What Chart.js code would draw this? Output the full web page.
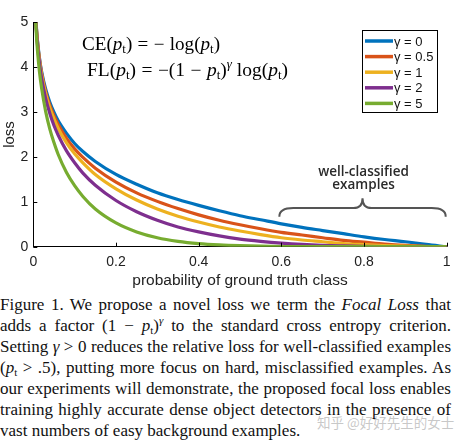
<!DOCTYPE html>
<html>
<head>
<meta charset="utf-8">
<script src="https://cdn.jsdelivr.net/npm/chart.js@4.4.1/dist/chart.umd.min.js"></script>
<style>
  html, body { margin: 0; padding: 0; background: #fff; }
  body { width: 464px; height: 441px; position: relative; overflow: hidden; }
  #wrap { position: absolute; left: 0; top: 0; width: 464px; height: 290px; }
  .formula { position: absolute; font-family: "Liberation Serif", serif; font-size: 18px; line-height: 18px; white-space: nowrap; color: #000; transform-origin: 0 50%; }
  .formula sub { font-size: 12px; vertical-align: -3px; line-height: 0; }
  .formula sup { font-size: 12px; vertical-align: 8px; line-height: 0; }
  .formula .op { margin: 0 5px; }
  #caption { position: absolute; left: 0; top: 293.5px; width: 451px; font-family: "Liberation Serif", serif; font-size: 17px; line-height: 21.1px; color: #111; }
  #caption .ln { white-space: nowrap; height: 21.1px; }
  #caption .ln span { display: inline-block; white-space: nowrap; }
  #caption sub { font-size: 11px; vertical-align: -3px; line-height: 0; }
  #caption sup { font-size: 11px; vertical-align: 7px; line-height: 0; }
  #mark { position: absolute; left: 317px; top: 412px; font-family: "Noto Sans CJK SC", sans-serif; font-size: 13.5px; color: rgba(175, 175, 175, 0.7); white-space: nowrap; }
</style>
</head>
<body>
<div id="wrap"><canvas id="focal-chart"></canvas></div>
<div class="formula" id="ce" data-w="138" style="left:82px; top:35px;">CE(<i>p</i><sub>t</sub>)<span class="op">=</span>−<span style="margin-left:5px">log(<i>p</i><sub>t</sub>)</span></div>
<div class="formula" id="fl" data-w="201" style="left:87px; top:61px;">FL(<i>p</i><sub>t</sub>)<span class="op">=</span>−(1<span class="op">−</span><i>p</i><sub>t</sub>)<sup><i>γ</i></sup> log(<i>p</i><sub>t</sub>)</div>
<div id="caption">
  <div class="ln"><span>Figure 1. We propose a novel loss we term the <i>Focal Loss</i> that</span></div>
  <div class="ln"><span>adds a factor (1 − <i>p</i><sub>t</sub>)<sup><i>γ</i></sup> to the standard cross entropy criterion.</span></div>
  <div class="ln"><span>Setting <i>γ</i> &gt; 0 reduces the relative loss for well-classified examples</span></div>
  <div class="ln"><span>(<i>p</i><sub>t</sub> &gt; .5), putting more focus on hard, misclassified examples. As</span></div>
  <div class="ln"><span>our experiments will demonstrate, the proposed focal loss enables</span></div>
  <div class="ln"><span>training highly accurate dense object detectors in the presence of</span></div>
  <div class="ln last"><span>vast numbers of easy background examples.</span></div>
</div>
<div id="mark">知乎 @好好先生的女士</div>
<script>
// values
const probability = [0.004, 0.007, 0.01, 0.015, 0.02, 0.03, 0.04, 0.05, 0.06, 0.08, 0.1, 0.12, 0.15, 0.2, 0.25, 0.3, 0.35, 0.4, 0.45, 0.5, 0.55, 0.6, 0.65, 0.7, 0.75, 0.8, 0.85, 0.9, 0.95, 1]
const lossGamma0 = [5.52, 4.96, 4.61, 4.20, 3.91, 3.51, 3.22, 3.00, 2.81, 2.53, 2.30, 2.12, 1.90, 1.61, 1.39, 1.20, 1.05, 0.92, 0.80, 0.69, 0.60, 0.51, 0.43, 0.36, 0.29, 0.22, 0.16, 0.11, 0.05, 0]
const lossGamma05 = [5.51, 4.94, 4.58, 4.17, 3.87, 3.45, 3.15, 2.92, 2.73, 2.42, 2.18, 1.99, 1.75, 1.44, 1.20, 1.01, 0.85, 0.71, 0.59, 0.49, 0.40, 0.32, 0.26, 0.20, 0.14, 0.10, 0.06, 0.03, 0.01, 0]
const lossGamma1 = [5.50, 4.93, 4.56, 4.14, 3.83, 3.40, 3.09, 2.85, 2.64, 2.32, 2.07, 1.87, 1.61, 1.29, 1.04, 0.84, 0.68, 0.55, 0.44, 0.35, 0.27, 0.20, 0.15, 0.11, 0.07, 0.045, 0.024, 0.011, 0.003, 0]
const lossGamma2 = [5.48, 4.89, 4.51, 4.08, 3.76, 3.30, 2.97, 2.70, 2.49, 2.14, 1.87, 1.64, 1.37, 1.03, 0.78, 0.59, 0.44, 0.33, 0.24, 0.17, 0.12, 0.08, 0.05, 0.03, 0.018, 0.009, 0.004, 0.001, 0, 0]
const lossGamma5 = [5.41, 4.79, 4.38, 3.89, 3.54, 3.01, 2.62, 2.32, 2.06, 1.66, 1.36, 1.12, 0.84, 0.53, 0.33, 0.20, 0.12, 0.07, 0.04, 0.022, 0.011, 0.005, 0.002, 0.001, 0, 0, 0, 0, 0, 0]
const seriesLabels = ["γ = 0", "γ = 0.5", "γ = 1", "γ = 2", "γ = 5"]
const xTicks = [0, 0.2, 0.4, 0.6, 0.8, 1]
const yTicks = [0, 1, 2, 3, 4, 5]
const braceRange = [0.6, 1]
const braceNote = ["well-classified", "examples"]

const colors = ["#0072BD", "#D95319", "#EDB120", "#7E2F8E", "#77AC30"]
const allLosses = [lossGamma0, lossGamma05, lossGamma1, lossGamma2, lossGamma5]

document.addEventListener("DOMContentLoaded", () => {
  // stretch each caption line to the column width
  document.querySelectorAll("#caption .ln").forEach((ln) => {
    if (ln.classList.contains("last")) return
    const span = ln.querySelector("span")
    const spaces = (span.textContent.match(/ /g) || []).length
    const extra = (451 - span.getBoundingClientRect().width) / spaces
    span.style.wordSpacing = extra + "px"
  })

  // LaTeX-set formulas run wider than Times; squeeze them to the same extent
  document.querySelectorAll(".formula").forEach((f) => {
    const w = f.getBoundingClientRect().width
    f.style.transform = "scaleX(" + (Number(f.dataset.w) / w) + ")"
  })

  const canvas = document.getElementById("focal-chart")
  canvas.width = 464
  canvas.height = 290

  // inward tick marks like the MATLAB axes
  const innerTicks = {
    id: "innerTicks",
    afterDraw(chart) {
      const { ctx, chartArea, scales } = chart
      ctx.save()
      ctx.strokeStyle = "#000"
      ctx.lineWidth = 1
      ctx.beginPath()
      xTicks.forEach((v) => {
        const px = Math.round(scales.x.getPixelForValue(v)) + 0.5
        ctx.moveTo(px, chartArea.bottom)
        ctx.lineTo(px, chartArea.bottom - 4)
      })
      yTicks.forEach((v) => {
        const py = Math.round(scales.y.getPixelForValue(v)) + 0.5
        ctx.moveTo(chartArea.left, py)
        ctx.lineTo(chartArea.left + 4, py)
      })
      ctx.stroke()
      ctx.restore()
    },
  }

  // boxed legend in the top right corner
  const boxLegend = {
    id: "boxLegend",
    afterDraw(chart) {
      const { ctx } = chart
      ctx.save()
      ctx.fillStyle = "#fff"
      ctx.fillRect(362.5, 30.5, 75, 82)
      ctx.strokeStyle = "#000"
      ctx.lineWidth = 1
      ctx.strokeRect(362.5, 30.5, 75, 82)
      ctx.font = "13px 'Liberation Sans', Arial, sans-serif"
      ctx.textBaseline = "middle"
      chart.data.datasets.forEach((ds, i) => {
        const y = 41 + i * 15.6
        ctx.strokeStyle = ds.borderColor
        ctx.lineWidth = 3.5
        ctx.beginPath()
        ctx.moveTo(365, y)
        ctx.lineTo(393, y)
        ctx.stroke()
        ctx.fillStyle = "#111"
        ctx.fillText(ds.label, 394, y + 1)
      })
      ctx.restore()
    },
  }

  // curly brace over the well-classified region
  const braceNoteDraw = {
    id: "braceNote",
    afterDraw(chart) {
      const { ctx, scales } = chart
      const x0 = scales.x.getPixelForValue(braceRange[0]) - 2
      const x1 = scales.x.getPixelForValue(braceRange[1]) - 1
      const xm = (x0 + x1) / 2
      const yEnd = scales.y.getPixelForValue(0.67)
      const yFlat = scales.y.getPixelForValue(0.86)
      const yPeak = scales.y.getPixelForValue(1.08)
      ctx.save()
      ctx.strokeStyle = "#555"
      ctx.lineWidth = 2
      ctx.beginPath()
      ctx.moveTo(x0, yEnd)
      ctx.quadraticCurveTo(x0, yFlat, x0 + 14, yFlat)
      ctx.lineTo(xm - 9, yFlat)
      ctx.quadraticCurveTo(xm, yFlat, xm, yPeak)
      ctx.quadraticCurveTo(xm, yFlat, xm + 9, yFlat)
      ctx.lineTo(x1 - 14, yFlat)
      ctx.quadraticCurveTo(x1, yFlat, x1, yEnd)
      ctx.stroke()
      ctx.fillStyle = "#2a2a2a"
      ctx.font = "600 13.5px 'Open Sans', sans-serif"
      ctx.textAlign = "center"
      ctx.textBaseline = "alphabetic"
      ctx.fillText(braceNote[0], xm + 1, 176)
      ctx.fillText(braceNote[1], xm + 1, 189)
      ctx.restore()
    },
  }

  const datasets = allLosses.map((losses, i) => ({
    label: seriesLabels[i],
    data: probability.map((p, j) => ({ x: p, y: losses[j] })),
    borderColor: colors[i],
    backgroundColor: colors[i],
    borderWidth: 3.2,
    pointRadius: 0,
    fill: false,
    cubicInterpolationMode: "monotone",
    order: allLosses.length - i,
  }))

  const tickFont = { family: "'Liberation Sans', Arial, sans-serif", size: 14 }

  new Chart(canvas.getContext("2d"), {
    type: "line",
    data: { datasets },
    options: {
      responsive: false,
      animation: false,
      devicePixelRatio: 1,
      layout: { padding: { top: 22.3, right: 17.3, left: 0, bottom: 0 } },
      plugins: { legend: { display: false }, tooltip: { enabled: false } },
      scales: {
        x: {
          type: "linear",
          min: 0,
          max: 1,
          afterBuildTicks: (scale) => { scale.ticks = xTicks.map((v) => ({ value: v })) },
          afterFit: (scale) => { scale.height = 43.3 },
          ticks: { color: "#222", font: tickFont, padding: 7, maxRotation: 0, callback: (v) => String(v) },
          grid: { drawOnChartArea: false, drawTicks: false },
          border: { display: true, color: "#000", width: 1 },
          title: { display: true, text: "probability of ground truth class", color: "#222", font: { family: tickFont.family, size: 15.5 }, padding: 0 },
        },
        y: {
          type: "linear",
          min: 0,
          max: 5,
          afterBuildTicks: (scale) => { scale.ticks = yTicks.map((v) => ({ value: v })) },
          afterFit: (scale) => { scale.width = 33.3 },
          ticks: { color: "#222", font: tickFont, padding: 5, callback: (v) => String(v) },
          grid: { drawOnChartArea: false, drawTicks: false },
          border: { display: true, color: "#000", width: 1 },
          title: { display: true, text: "loss", color: "#222", font: { family: tickFont.family, size: 15 }, padding: { top: 1, bottom: 0 } },
        },
      },
    },
    plugins: [innerTicks, braceNoteDraw, boxLegend],
  })
})
</script>
</body>
</html>
